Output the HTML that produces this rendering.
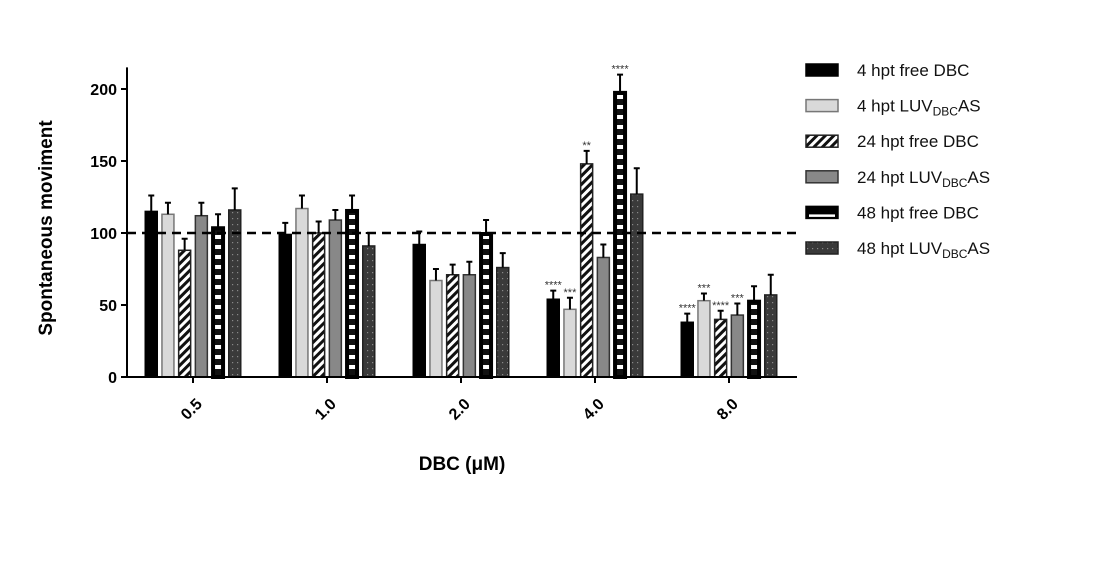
<!DOCTYPE html>
<html><head><meta charset="utf-8"><style>
html,body{margin:0;padding:0;background:#fff;}
svg{display:block;font-family:"Liberation Sans",Arial,sans-serif;}
</style></head><body>
<svg id="chart" width="1118" height="568" viewBox="0 0 1118 568">
<defs>
<pattern id="hatch" patternUnits="userSpaceOnUse" width="6" height="6" patternTransform="rotate(45)">
<rect width="6" height="6" fill="#fff"/><rect width="3" height="6" fill="#111"/></pattern>
<pattern id="stripe" patternUnits="userSpaceOnUse" width="2000" height="10">
<rect width="2000" height="10" fill="#111"/><rect x="0" y="5" width="2000" height="4" fill="#fff"/></pattern>
<pattern id="dots" patternUnits="userSpaceOnUse" width="5" height="6">
<rect width="5" height="6" fill="#3a3a3a"/><rect x="2" y="2" width="1.2" height="1.2" fill="#888"/></pattern>
</defs>
<g id="plot"></g>
</svg>
<script>
const categories=["0.5","1.0","2.0","4.0","8.0"];
const seriesNames=["4 hpt free DBC","4 hpt LUV_DBC_AS","24 hpt free DBC","24 hpt LUV_DBC_AS","48 hpt free DBC","48 hpt LUV_DBC_AS"];
const s4free=[115,99,92,54,38];
const s4luv=[113,117,67,47,53];
const s24free=[88,100,71,148,40];
const s24luv=[112,109,71,83,43];
const s48free=[104,116,100,198,53];
const s48luv=[116,91,76,127,57];
const e4free=[11,8,9,6,6];
const e4luv=[8,9,8,8,5];
const e24free=[8,8,7,9,6];
const e24luv=[9,7,9,9,8];
const e48free=[9,10,9,12,10];
const e48luv=[15,9,10,18,14];
const sig4free=["","","","****","****"];
const sig4luv=["","","","***","***"];
const sig24free=["","","","**","****"];
const sig24luv=["","","","","***"];
const sig48free=["","","","****",""];
const sig48luv=["","","","",""];
const yTicks=[0,50,100,150,200];
const refLine=100;

const values=[s4free,s4luv,s24free,s24luv,s48free,s48luv];
const errs=[e4free,e4luv,e24free,e24luv,e48free,e48luv];
const sigs=[sig4free,sig4luv,sig24free,sig24luv,sig48free,sig48luv];
const fills=["#000","#d9d9d9","url(#hatch)","#888","url(#stripe)","url(#dots)"];
const strokes=["#000","#777","#222","#333","#000","#222"];
const sw=[1.5,1.5,1.5,1.5,4,1.5];
const NS="http://www.w3.org/2000/svg";
const g=document.getElementById('plot');
const X0=127,X1=797,Y0=377,Y200=89;
const y=v=>Y0-(v/200)*(Y0-Y200);
const groupW=(X1-X0)/categories.length;
const xc=i=>X0+groupW*(i+0.5)-1;
const barStep=16.7,barW=12;
function mk(t,a,parent){const e=document.createElementNS(NS,t);for(const k in a)e.setAttribute(k,a[k]);(parent||g).appendChild(e);return e;}

values.forEach((arr,s)=>{arr.forEach((v,i)=>{
 const cx=xc(i)+(s-2.5)*barStep;
 const inset=s===4?1:0;
 const r=mk('rect',{x:cx-barW/2+inset,y:y(v)+inset,width:barW-2*inset,height:Y0-y(v)-inset,fill:fills[s],stroke:strokes[s],'stroke-width':sw[s]});
 
 
 const top=y(v+errs[s][i]);
 const eb=mk('path',{d:`M${cx} ${y(v)}V${top}M${cx-3} ${top}H${cx+3}`,stroke:'#000','stroke-width':2,fill:'none'});
 
 
 if(sigs[s][i]){const t=mk('text',{x:cx,y:top-2,'text-anchor':'middle','font-size':11,fill:'#333'});t.textContent=sigs[s][i];
 
 }
});});

const rl=mk('line',{x1:X0,x2:X1,y1:y(refLine),y2:y(refLine),stroke:'#000','stroke-width':2.5,'stroke-dasharray':'9,6'});



const ya=mk('line',{x1:X0,x2:X0,y1:Y0+1,y2:y(215),stroke:'#000','stroke-width':2});


const xa=mk('line',{x1:X0-1,x2:X1,y1:Y0,y2:Y0,stroke:'#000','stroke-width':2});


yTicks.forEach(v=>{
 mk('line',{x1:X0-6,x2:X0,y1:y(v),y2:y(v),stroke:'#000','stroke-width':2});
 const t=mk('text',{x:X0-10,y:y(v)+6,'text-anchor':'end','font-size':16,'font-weight':'bold'});t.textContent=v;
 
 
});
categories.forEach((c,i)=>{
 mk('line',{x1:xc(i),x2:xc(i),y1:Y0,y2:Y0+6,stroke:'#000','stroke-width':2});
 const tx=xc(i)+10,ty=Y0+28;
 const t=mk('text',{x:tx,y:ty,'text-anchor':'end','font-size':16,'font-weight':'bold',transform:`rotate(-45 ${tx} ${ty})`});t.textContent=c;
 
 
});
const xt=mk('text',{x:462,y:470,'text-anchor':'middle','font-size':19,'font-weight':'bold'});xt.textContent='DBC (μM)';


const yt=mk('text',{x:52,y:228,'text-anchor':'middle','font-size':19,'font-weight':'bold',transform:'rotate(-90 52 228)'});yt.textContent='Spontaneous moviment';



seriesNames.forEach((n,s)=>{
 const cy=70+s*35.6;
 const lg=mk('g',{});
 
 
 mk('rect',{x:806,y:cy-6,width:32,height:12,fill:s===4?'#000':fills[s],stroke:strokes[s],'stroke-width':1.5},lg);
 if(s===4) mk('rect',{x:809,y:cy+2,width:26,height:2.5,fill:'#fff'},lg);
 const t=mk('text',{x:857,y:cy+6,'font-size':17,fill:'#111'},lg);
 const parts=n.split('_');
 parts.forEach((p,k)=>{const ts=document.createElementNS(NS,'tspan');ts.textContent=p;
  if(k===1){ts.setAttribute('font-size','12');ts.setAttribute('dy','4');}
  if(k===2){ts.setAttribute('dy','-4');}
  t.appendChild(ts);});
});
</script>
</body></html>
